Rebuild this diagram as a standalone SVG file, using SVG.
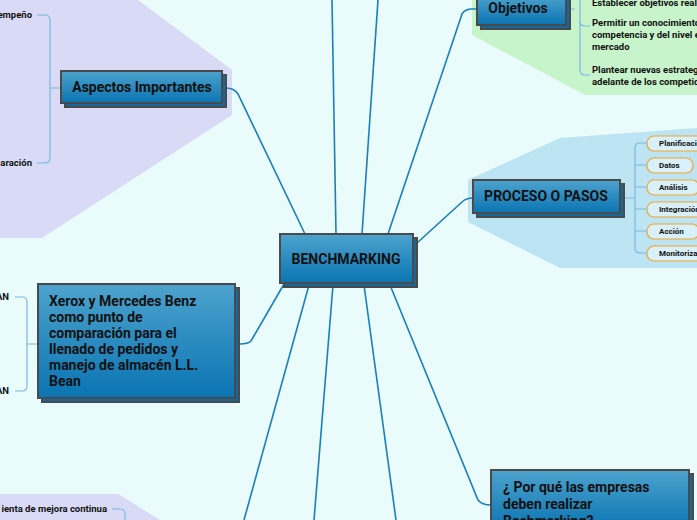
<svg xmlns="http://www.w3.org/2000/svg" width="697" height="520" viewBox="0 0 697 520">
<defs>
<linearGradient id="g" x1="0" y1="0" x2="0" y2="1"><stop offset="0" stop-color="#4da3cd"/><stop offset="1" stop-color="#0a74b2"/></linearGradient>
<style>
.n{fill:url(#g);stroke:#4a4a4a;stroke-width:2}
.s{fill:#1468a0;stroke:#4a4a4a;stroke-width:2}
.t{font-family:Roboto,"Liberation Sans",sans-serif;font-weight:bold;fill:#111}
.big{font-size:14px}
.sm{font-size:9.5px}
.xs{font-size:8px}
.c{fill:none;stroke:#1a7fbd;stroke-width:1.6}
.b{fill:none;stroke:#7bb8de;stroke-width:1.2}
.p{fill:#d8f0f8;stroke:#f2a52c;stroke-width:1.2}
</style>
</defs>
<rect width="697" height="520" fill="#e9fbfb"/>
<polygon points="0,0 138,0 232,70 232,115 42,238 0,238" fill="#d9dbf6"/>
<polygon points="0,494 118,494 160,520 0,520" fill="#d9dbf6"/>
<polygon points="472,0 697,0 697,95 585,95 472,35" fill="#c8f4cc"/>
<polygon points="468,180 560,138 697,128 697,268 560,268 468,222" fill="#bde4f2"/>
<g id="connectors">
<path class="c" d="M336,234 L332,0"/>
<path class="c" d="M362,234 L378,0"/>
<path class="c" d="M388,234 L462,14 Q465,9 472,9 L477,9"/>
<path class="c" d="M305,234 L238,94 Q234,88 226,88"/>
<path class="c" d="M417,243 L462,202 Q466,198 473,198"/>
<path class="c" d="M284,284 L251,341 Q248,344 240,344"/>
<path class="c" d="M309,285 L244,520"/>
<path class="c" d="M333,285 L314,520"/>
<path class="c" d="M364,285 L396,520"/>
<path class="c" d="M390,285 L478,500 Q482,505 491,505"/>
<path class="b" d="M566,9 L575,9 M580,0 L580,21 Q580,26 585,26 L590,26 M580,21 L580,70 Q580,75 585,75 L590,75"/>
<path class="b" d="M620,198 L635,198 M647,143 L640,143 Q635,143 635,148 L635,248 Q635,253 640,253 L647,253 M635,165 L647,165 M635,187 L647,187 M635,209 L647,209 M635,231 L647,231"/>
<path class="b" d="M61,88 L50,88 M37,15 L45,15 Q50,15 50,20 L50,158 Q50,163 45,163 L37,163"/>
<path class="b" d="M38,344 L27,344 M15,297 L22,297 Q27,297 27,302 L27,386 Q27,391 22,391 L15,391"/>
<path class="b" d="M112,509 L120,509 Q125,509 125,514 L125,520"/>
</g>
<g id="central">
<rect class="s" x="284" y="238" width="133" height="49"/>
<rect class="n" x="280" y="234" width="133" height="49"/>
<text class="t big" x="346" y="264" text-anchor="middle">BENCHMARKING</text>
</g>
<g id="objetivos">
<rect class="s" x="481" y="-1" width="89" height="30"/>
<rect class="n" x="477" y="-5" width="89" height="30"/>
<text class="t big" x="518" y="13" text-anchor="middle">Objetivos</text>
<text class="t sm" x="592" y="6">Establecer objetivos reales</text>
<text class="t sm" x="592" y="26">Permitir un conocimiento de la</text>
<text class="t sm" x="592" y="38">competencia y del nivel en el</text>
<text class="t sm" x="592" y="50">mercado</text>
<text class="t sm" x="592" y="73">Plantear nuevas estrategias</text>
<text class="t sm" x="592" y="85">adelante de los competidores</text>
</g>
<g id="proceso">
<rect class="s" x="477" y="184" width="147" height="33"/>
<rect class="n" x="473" y="180" width="147" height="33"/>
<text class="t big" x="546" y="201" text-anchor="middle">PROCESO O PASOS</text>
<rect class="p" x="647" y="136" width="80" height="15" rx="7"/>
<text class="t xs" x="659" y="146">Planificación</text>
<rect class="p" x="647" y="158" width="46" height="15" rx="7"/>
<text class="t xs" x="659" y="168">Datos</text>
<rect class="p" x="647" y="180" width="52" height="15" rx="7"/>
<text class="t xs" x="659" y="190">Análisis</text>
<rect class="p" x="647" y="202" width="80" height="15" rx="7"/>
<text class="t xs" x="659" y="212">Integración</text>
<rect class="p" x="647" y="224" width="52" height="15" rx="7"/>
<text class="t xs" x="659" y="234">Acción</text>
<rect class="p" x="647" y="246" width="90" height="15" rx="7"/>
<text class="t xs" x="659" y="256">Monitorización</text>
</g>
<g id="aspectos">
<rect class="s" x="65" y="75" width="161" height="32"/>
<rect class="n" x="61" y="71" width="161" height="32"/>
<text class="t big" x="142" y="92" text-anchor="middle">Aspectos Importantes</text>
<text class="t sm" x="32" y="18" text-anchor="end">empeño</text>
<text class="t sm" x="32" y="166" text-anchor="end">aración</text>
</g>
<g id="xerox">
<rect class="s" x="42" y="288" width="197" height="114"/>
<rect class="n" x="38" y="284" width="197" height="114"/>
<text class="t big"><tspan x="49" y="306">Xerox y Mercedes Benz</tspan><tspan x="49" y="322">como punto de</tspan><tspan x="49" y="338">comparación para el</tspan><tspan x="49" y="354">llenado de pedidos y</tspan><tspan x="49" y="370">manejo de almacén L.L.</tspan><tspan x="49" y="386">Bean</tspan></text>
<text class="t sm" x="9" y="300" text-anchor="end">AN</text>
<text class="t sm" x="9" y="394" text-anchor="end">AN</text>
</g>
<g id="mejora">
<text class="t sm" x="107" y="512" text-anchor="end">ienta de mejora continua</text>
</g>
<g id="porque">
<rect class="s" x="495" y="474" width="198" height="60"/>
<rect class="n" x="491" y="470" width="198" height="60"/>
<text class="t big"><tspan x="503" y="492">¿ Por qué las empresas</tspan><tspan x="503" y="509">deben realizar</tspan><tspan x="503" y="526">Bechmarking?</tspan></text>
</g>
</svg>
